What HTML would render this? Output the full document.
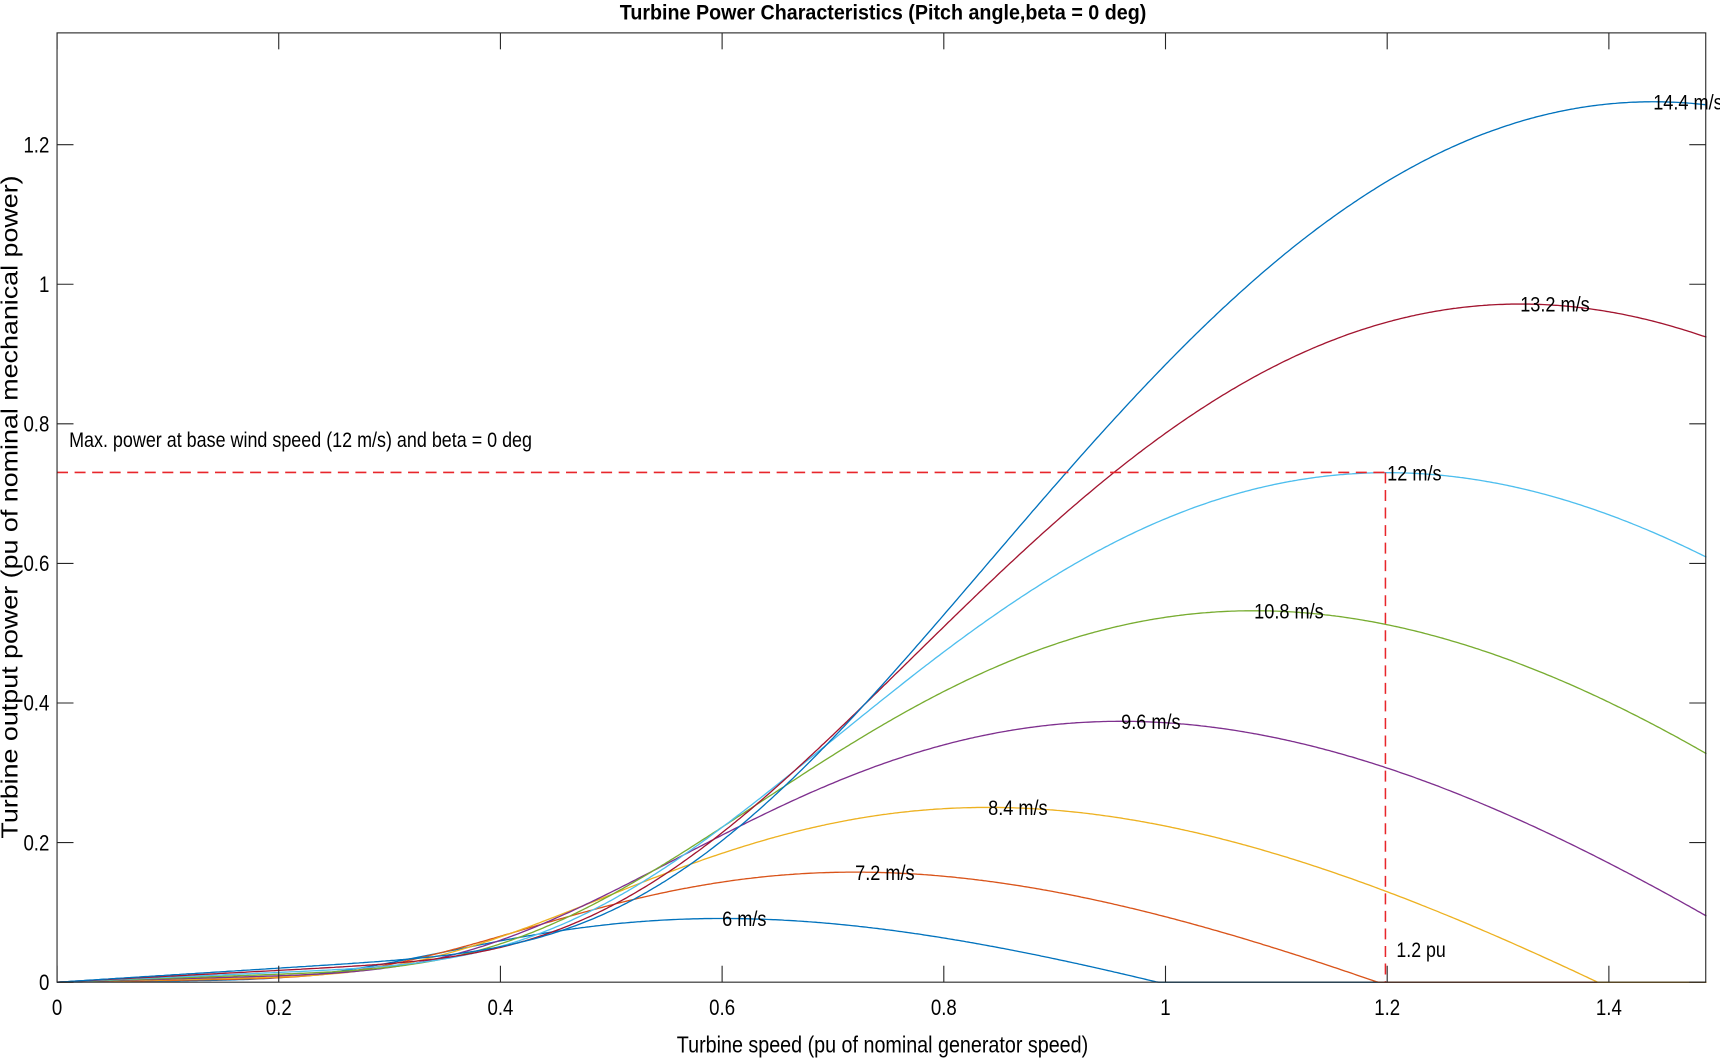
<!DOCTYPE html>
<html><head><meta charset="utf-8"><style>
html,body{margin:0;padding:0;background:#fff;}
svg{display:block;}
text{font-family:"Liberation Sans Narrow","Liberation Sans",sans-serif;fill:#000;}
</style></head><body>
<svg id="s" width="1720" height="1060" viewBox="0 0 1568 967" preserveAspectRatio="none" xmlns="http://www.w3.org/2000/svg">
<rect width="1568" height="967" fill="#fff"/>
<g id="curves"></g>
<line x1="52" y1="431" x2="1263" y2="431" stroke="#e8262b" stroke-width="1.4" stroke-dasharray="10,6"/>
<line x1="1263" y1="431" x2="1263" y2="896" stroke="#e8262b" stroke-width="1.4" stroke-dasharray="10,6"/>
<g id="ax"></g>
<text x="565" y="18" font-size="19" font-weight="bold" textLength="480" lengthAdjust="spacingAndGlyphs">Turbine Power Characteristics (Pitch angle,beta = 0 deg)</text>
<text x="617" y="960" font-size="21" textLength="375" lengthAdjust="spacingAndGlyphs">Turbine speed (pu of nominal generator speed)</text>
<text transform="translate(16,765) rotate(-90)" font-size="21" textLength="605" lengthAdjust="spacingAndGlyphs">Turbine output power (pu of nominal mechanical power)</text>
<text x="63" y="408" font-size="19" textLength="422" lengthAdjust="spacingAndGlyphs">Max. power at base wind speed (12 m/s) and beta = 0 deg</text>
<text x="1273" y="873" font-size="19" textLength="45" lengthAdjust="spacingAndGlyphs">1.2 pu</text>
</svg>
<script>
var NS="http://www.w3.org/2000/svg";
function X(w){return 52+w*1010.5;}
function Y(p){return 896-p*636.7;}
function el(t,a,p,txt){var e=document.createElementNS(NS,t);for(var k in a)e.setAttribute(k,a[k]);if(txt!==undefined)e.textContent=txt;p.appendChild(e);return e;}
var ax=document.getElementById('ax'),cv=document.getElementById('curves');
el('rect',{x:52,y:30,width:1503,height:866,fill:'none',stroke:'#262626','stroke-width':1},ax);
for(var i=0;i<=7;i++){var x=X(i*0.2);
 el('line',{x1:x,y1:896,x2:x,y2:881,stroke:'#262626'},ax);
 el('line',{x1:x,y1:30,x2:x,y2:45,stroke:'#262626'},ax);
 var t=el('text',{x:x,y:926,'text-anchor':'middle','font-size':20},ax,i==0?'0':(i==5?'1':(i*0.2).toFixed(1)));
 t.setAttribute('transform','translate('+x+',0) scale(0.85,1) translate('+(-x)+',0)');}
for(var i=0;i<=6;i++){var y=Y(i*0.2);
 el('line',{x1:52,y1:y,x2:67,y2:y,stroke:'#262626'},ax);
 el('line',{x1:1555,y1:y,x2:1540,y2:y,stroke:'#262626'},ax);
 var t=el('text',{x:45,y:y+7,'text-anchor':'end','font-size':20},ax,i==0?'0':(i==5?'1':(i*0.2).toFixed(1)));
 t.setAttribute('transform','translate(45,0) scale(0.85,1) translate(-45,0)');}
var winds=[6,7.2,8.4,9.6,10.8,12,13.2,14.4];
var cols=['#0072BD','#D95319','#EDB120','#7E2F8E','#77AC30','#4DBEEE','#A2142F','#0072BD'];
function cp(l){var inv=1/l-0.035;return 0.5176*(116*inv-5)*Math.exp(-21*inv)+0.0068*l;}
var cpn=0;for(var l=4;l<12;l+=0.001){cpn=Math.max(cpn,cp(l));}
winds.forEach(function(v,k){
 var pts=[X(0)+','+Y(0)];var r=v/12;
 for(var w=0.002;w<=1.4885;w+=0.002){var lam=8.1*(w/1.2)/r;var p=0.73*cp(lam)/cpn*r*r*r;if(p<0)p=0;pts.push(X(w).toFixed(1)+','+Y(p).toFixed(1));}
 el('polyline',{points:pts.join(' '),fill:'none',stroke:cols[k],'stroke-width':1.2},cv);
});
winds.forEach(function(v,k){
 var r=v/12, wp=1.2*r, pp=0.73*r*r*r;
 var s=(v%1==0?v:v.toFixed(1))+' m/s';
 var t=el('text',{x:X(wp),y:Y(pp)+7,'font-size':19},ax,s);
 t.setAttribute('transform','translate('+X(wp)+',0) scale(0.87,1) translate('+(-X(wp))+',0)');
});
</script>
</body></html>
